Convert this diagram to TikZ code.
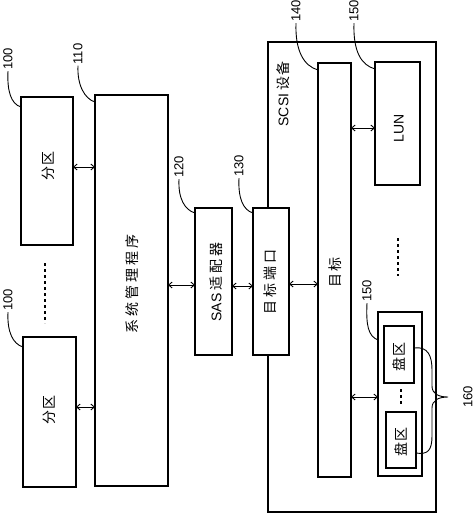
\documentclass[tikz,border=0pt]{standalone}
\usepackage{fontspec}
\setmainfont{Liberation Sans}
\newfontfamily\cjk{Noto Sans CJK SC}
\usetikzlibrary{arrows.meta}
\tikzset{
  box/.style={draw, line width=1.1pt, fill=white, inner sep=0pt, outer sep=0pt},
  lbl/.style={rotate=90, inner sep=0pt, font=\fontsize{14}{14}\selectfont},
  num/.style={rotate=90, inner sep=1pt, font=\fontsize{13}{13}\selectfont},
  arr/.style={{Straight Barb[length=3.5pt,width=6pt]}-{Straight Barb[length=3.5pt,width=6pt]}, line width=0.9pt},
  lead/.style={line width=0.9pt},
  dotline/.style={line width=2.6pt, dash pattern=on 2.6pt off 3.4pt},
}
\begin{document}
\begin{tikzpicture}[x=1pt,y=-1pt]
\useasboundingbox (0,0) rectangle (474,515);
% left side
\node[box, minimum width=52pt, minimum height=148pt] (p1) at (47,171) {};
\node[box, minimum width=53pt, minimum height=150pt] (p2) at (49.5,412) {};
\node[box, minimum width=73pt, minimum height=391pt] (sys) at (131.5,290.5) {};
\node[box, minimum width=37pt, minimum height=147pt] (sas) at (213.5,281.5) {};
% SCSI device
\node[box, minimum width=168pt, minimum height=470pt] (scsi) at (352,277) {};
\node[box, minimum width=36pt, minimum height=147pt] (port) at (271,281.5) {};
\node[box, minimum width=33pt, minimum height=414pt] (tgt) at (334.5,270) {};
\node[box, minimum width=45pt, minimum height=123pt] (lun) at (397.5,123.5) {};
\node[box, minimum width=44pt, minimum height=164pt] (grp) at (400,394) {};
\node[box, minimum width=30pt, minimum height=57pt] (d1) at (399,354.5) {};
\node[box, minimum width=30pt, minimum height=56pt] (d2) at (401,440) {};
% texts
\node[lbl] (tp1) at (48,166) {\cjk 分\hspace{1pt}区};
\node[lbl] (tp2) at (49,410) {\cjk 分\hspace{1pt}区};
\node[lbl] (tsys) at (132,284) {\cjk 系\hspace{3pt}统\hspace{3pt}管\hspace{3pt}理\hspace{3pt}程\hspace{3pt}序};
\node[lbl] (tsas) at (216,282) {SAS\hspace{3pt}{\cjk 适\hspace{3pt}配\hspace{3pt}器}};
\node[lbl] (tport) at (270,282) {\cjk 目\hspace{3pt}标\hspace{3pt}端\hspace{3pt}口};
\node[lbl] (tscsi) at (283,94) {SCSI\hspace{3pt}{\cjk 设\hspace{1pt}备}};
\node[lbl] (ttgt) at (335,272) {\cjk 目\hspace{2pt}标};
\node[lbl] (tlun) at (399,128) {LUN};
\node[lbl] (td1) at (399,357) {\cjk 盘\hspace{1pt}区};
\node[lbl] (td2) at (401,442) {\cjk 盘\hspace{1pt}区};
% arrows
\draw[arr] ([yshift=4pt]p1.east) -- ([yshift=4pt]p1.east -| sys.west);
\draw[arr] ([yshift=5pt]p2.east) -- ([yshift=5pt]p2.east -| sys.west);
\draw[arr] ([yshift=-3.5pt]sas.west -| sys.east) -- ([yshift=-3.5pt]sas.west);
\draw[arr] ([yshift=-4.5pt]sas.east) -- ([yshift=-4.5pt]sas.east -| port.west);
\draw[arr] ([yshift=-2.5pt]port.east) -- ([yshift=-2.5pt]port.east -| tgt.west);
\draw[arr] ([yshift=-4.5pt]lun.west -| tgt.east) -- ([yshift=-4.5pt]lun.west);
\draw[arr] ([yshift=-3pt]grp.west -| tgt.east) -- ([yshift=-3pt]grp.west);
% dots
\coordinate (da) at (45,263); \coordinate (db) at (45,323);
\draw[dotline] (da) -- (db);
\coordinate (dc) at (398,238); \coordinate (dd) at (398,276);
\draw[dotline] (dc) -- (dd);
\coordinate (de) at (401,389); \coordinate (df) at (401,405);
\draw[dotline] (de) -- (df);
% number labels
\node[num] (n100a) at (8,59) {100};
\node[num] (n100b) at (8,300) {100};
\node[num] (n110) at (78,54) {110};
\node[num] (n120) at (179,167) {120};
\node[num] (n130) at (239,166) {130};
\node[num] (n140) at (296,11) {140};
\node[num] (n150a) at (354,11) {150};
\node[num] (n150b) at (367,291) {150};
\node[num] (n160) at (468,397) {160};
% leaders
\draw[lead] (n100a.west) .. controls +(-1,20) and +(-10,-3) .. ([yshift=-10pt]p1.north west);
\draw[lead] (n100b.west) .. controls +(-1,20) and +(-10,-3) .. ([yshift=-10pt]p2.north west);
\draw[lead] (n110.west) .. controls +(-1,20) and +(-10,-3) .. ([yshift=-7pt]sys.north west);
\draw[lead] (n120.west) .. controls +(-1,20) and +(-10,-3) .. ([yshift=-5pt]sas.north west);
\draw[lead] (n130.west) .. controls +(-1,20) and +(-10,-3) .. ([yshift=-5pt]port.north west);
\draw[lead] (n140.west) .. controls +(-1,28) and +(-14,-4) .. ([yshift=-7pt]tgt.north west);
\draw[lead] (n150a.west) .. controls +(-1,28) and +(-14,-4) .. ([yshift=-7pt]lun.north west);
\draw[lead] (n150b.west) .. controls +(-1,22) and +(-10,-4) .. ([yshift=-28pt]grp.north west);
% brace 160
\coordinate (bt) at ([yshift=6.5pt]d1.east);
\coordinate (bb) at ([yshift=-13pt]d2.east);
\coordinate (tip) at (448,397);
\draw[lead] (bt) .. controls +(14,-2) and +(0,-14) .. (432,370) -- (432,386)
  .. controls +(0,8) and +(-9,0) .. (tip)
  .. controls +(-9,0) and +(0,-8) .. (432,408) -- (432,436)
  .. controls +(0,14) and +(12,2) .. (bb);
\end{tikzpicture}
\end{document}
